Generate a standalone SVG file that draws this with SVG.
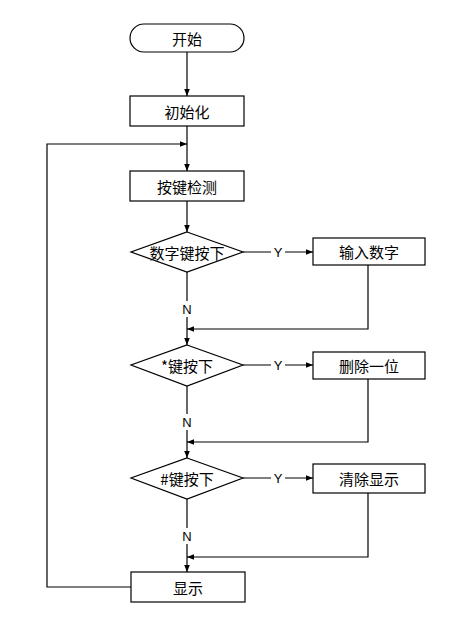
<svg xmlns="http://www.w3.org/2000/svg" width="475" height="628" viewBox="0 0 475 628">
<defs>
<marker id="ah" viewBox="0 0 10 10" refX="10" refY="5" markerWidth="7" markerHeight="7" orient="auto" markerUnits="userSpaceOnUse">
<path d="M0,1 L10,5 L0,9 Z" fill="#000"/>
</marker>
<style>
.s{fill:#fff;stroke:#000;stroke-width:1.2}
.t{font-family:"Noto Sans CJK SC","Liberation Sans",sans-serif;font-size:15px;fill:#000;text-anchor:middle;dominant-baseline:central}
.l{font-family:"Liberation Sans",Arial,sans-serif;font-size:13px;fill:#000;text-anchor:middle;dominant-baseline:central}
.c{fill:none;stroke:#000;stroke-width:1.2}
</style>
</defs>
<rect width="475" height="628" fill="#fff"/>
<g id="connectors">
<path class="c" d="M187,52 V96" marker-end="url(#ah)"/>
<path class="c" d="M187,126 V171" marker-end="url(#ah)"/>
<path class="c" d="M187,201 V232" marker-end="url(#ah)"/>
<path class="c" d="M243,252 H313" marker-end="url(#ah)"/>
<path class="c" d="M187,272 V345" marker-end="url(#ah)"/>
<path class="c" d="M368,265 V329 H187" marker-end="url(#ah)"/>
<path class="c" d="M243,365 H313" marker-end="url(#ah)"/>
<path class="c" d="M187,386 V458" marker-end="url(#ah)"/>
<path class="c" d="M368,379 V442 H187" marker-end="url(#ah)"/>
<path class="c" d="M243,478 H313" marker-end="url(#ah)"/>
<path class="c" d="M187,499 V572" marker-end="url(#ah)"/>
<path class="c" d="M368,493 V557 H187" marker-end="url(#ah)"/>
<path class="c" d="M131,587 H47 V144 H187" marker-end="url(#ah)"/>
<rect x="271" y="244" width="14" height="16" fill="#fff"/>
<text class="l" x="278" y="252">Y</text>
<rect x="271" y="357" width="14" height="16" fill="#fff"/>
<text class="l" x="278" y="365">Y</text>
<rect x="271" y="470" width="14" height="16" fill="#fff"/>
<text class="l" x="278" y="478">Y</text>
<rect x="180" y="301" width="14" height="16" fill="#fff"/>
<text class="l" x="187" y="309">N</text>
<rect x="180" y="414" width="14" height="16" fill="#fff"/>
<text class="l" x="187" y="422">N</text>
<rect x="180" y="528" width="14" height="16" fill="#fff"/>
<text class="l" x="187" y="536">N</text>
</g>
<g id="start"><rect class="s" x="130" y="24" width="114" height="28" rx="14" ry="14"/><text class="t" x="187" y="38">开始</text></g>
<g id="init"><rect class="s" x="130" y="96" width="114" height="30"/><text class="t" x="187" y="111">初始化</text></g>
<g id="scan"><rect class="s" x="130" y="171" width="114" height="30"/><text class="t" x="187" y="186">按键检测</text></g>
<g id="d1"><polygon class="s" points="187,232 243,252 187,272 131,252"/><text class="t" x="187" y="252">数字键按下</text></g>
<g id="b1"><rect class="s" x="313" y="238" width="112" height="27"/><text class="t" x="369" y="251.5">输入数字</text></g>
<g id="d2"><polygon class="s" points="187,345 243,365 187,386 131,365"/><text class="t" x="187" y="365">*键按下</text></g>
<g id="b2"><rect class="s" x="313" y="352" width="112" height="27"/><text class="t" x="369" y="365.5">删除一位</text></g>
<g id="d3"><polygon class="s" points="187,458 243,478 187,499 131,478"/><text class="t" x="187" y="478">#键按下</text></g>
<g id="b3"><rect class="s" x="313" y="464" width="112" height="29"/><text class="t" x="369" y="478.5">清除显示</text></g>
<g id="show"><rect class="s" x="131" y="572" width="114" height="30"/><text class="t" x="188" y="587">显示</text></g>
</svg>
